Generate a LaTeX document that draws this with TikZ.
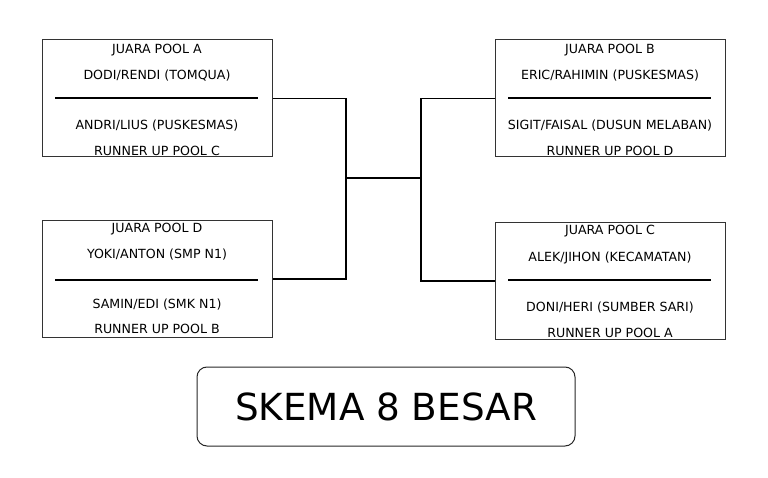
\documentclass[tikz,border=0pt]{standalone}
\usepackage{fontspec}
\setmainfont{DejaVu Sans}
\begin{document}
\begin{tikzpicture}[x=1pt,y=-1pt,
  box/.style={draw=black!80,line width=1pt,minimum width=230pt,minimum height=117pt,inner sep=0pt},
  txt/.style={inner sep=0pt,font=\fontsize{12.6}{14}\selectfont},
  rule/.style={line width=1.8pt,black},
  conn/.style={line width=1.8pt,black},
  title/.style={draw=black!85,line width=1pt,rounded corners=10pt,minimum width=378pt,minimum height=79pt,inner sep=0pt,font=\fontsize{37.3}{40}\selectfont}]
\useasboundingbox (0,0) rectangle (768,478);
% boxes
\node[box] (A) at (157,98.5) {};
\node[box] (D) at (157,279) {};
\node[box] (B) at (610,98.5) {};
\node[box] (C) at (610,281) {};
% texts box A
\node[txt] (a1) at (157,50) {JUARA POOL A};
\node[txt] (a2) at (157,76) {DODI/RENDI (TOMQUA)};
\node[txt] (a3) at (157,126) {ANDRI/LIUS (PUSKESMAS)};
\node[txt] (a4) at (157,150.5) {RUNNER UP POOL C};
\coordinate (ar1) at (55,98); \coordinate (ar2) at (258,98);
\draw[rule] (ar1) -- (ar2);
% box D
\node[txt] (d1) at (157,229.5) {JUARA POOL D};
\node[txt] (d2) at (157,255) {YOKI/ANTON (SMP N1)};
\node[txt] (d3) at (157,305) {SAMIN/EDI (SMK N1)};
\node[txt] (d4) at (157,328.5) {RUNNER UP POOL B};
\coordinate (dr1) at (55,280); \coordinate (dr2) at (258,280);
\draw[rule] (dr1) -- (dr2);
% box B
\node[txt] (b1) at (610,50) {JUARA POOL B};
\node[txt] (b2) at (610,76) {ERIC/RAHIMIN (PUSKESMAS)};
\node[txt] (b3) at (610,126) {SIGIT/FAISAL (DUSUN MELABAN)};
\node[txt] (b4) at (610,150.5) {RUNNER UP POOL D};
\coordinate (br1) at (508,98); \coordinate (br2) at (711,98);
\draw[rule] (br1) -- (br2);
% box C
\node[txt] (c1) at (610,231) {JUARA POOL C};
\node[txt] (c2) at (610,258) {ALEK/JIHON (KECAMATAN)};
\node[txt] (c3) at (610,308) {DONI/HERI (SUMBER SARI)};
\node[txt] (c4) at (610,332.5) {RUNNER UP POOL A};
\coordinate (cr1) at (508,280); \coordinate (cr2) at (711,280);
\draw[rule] (cr1) -- (cr2);
% connectors
\coordinate (jl) at (346,178);
\coordinate (jr) at (421,178);
\draw[conn] (A.east) -| (jl) |- (D.east);
\draw[conn] (jl) -- (jr);
\draw[conn] (B.west) -| (jr) |- (C.west);
% title
\node[title] (T) at (386,406.5) {SKEMA 8 BESAR};
\end{tikzpicture}
\end{document}
